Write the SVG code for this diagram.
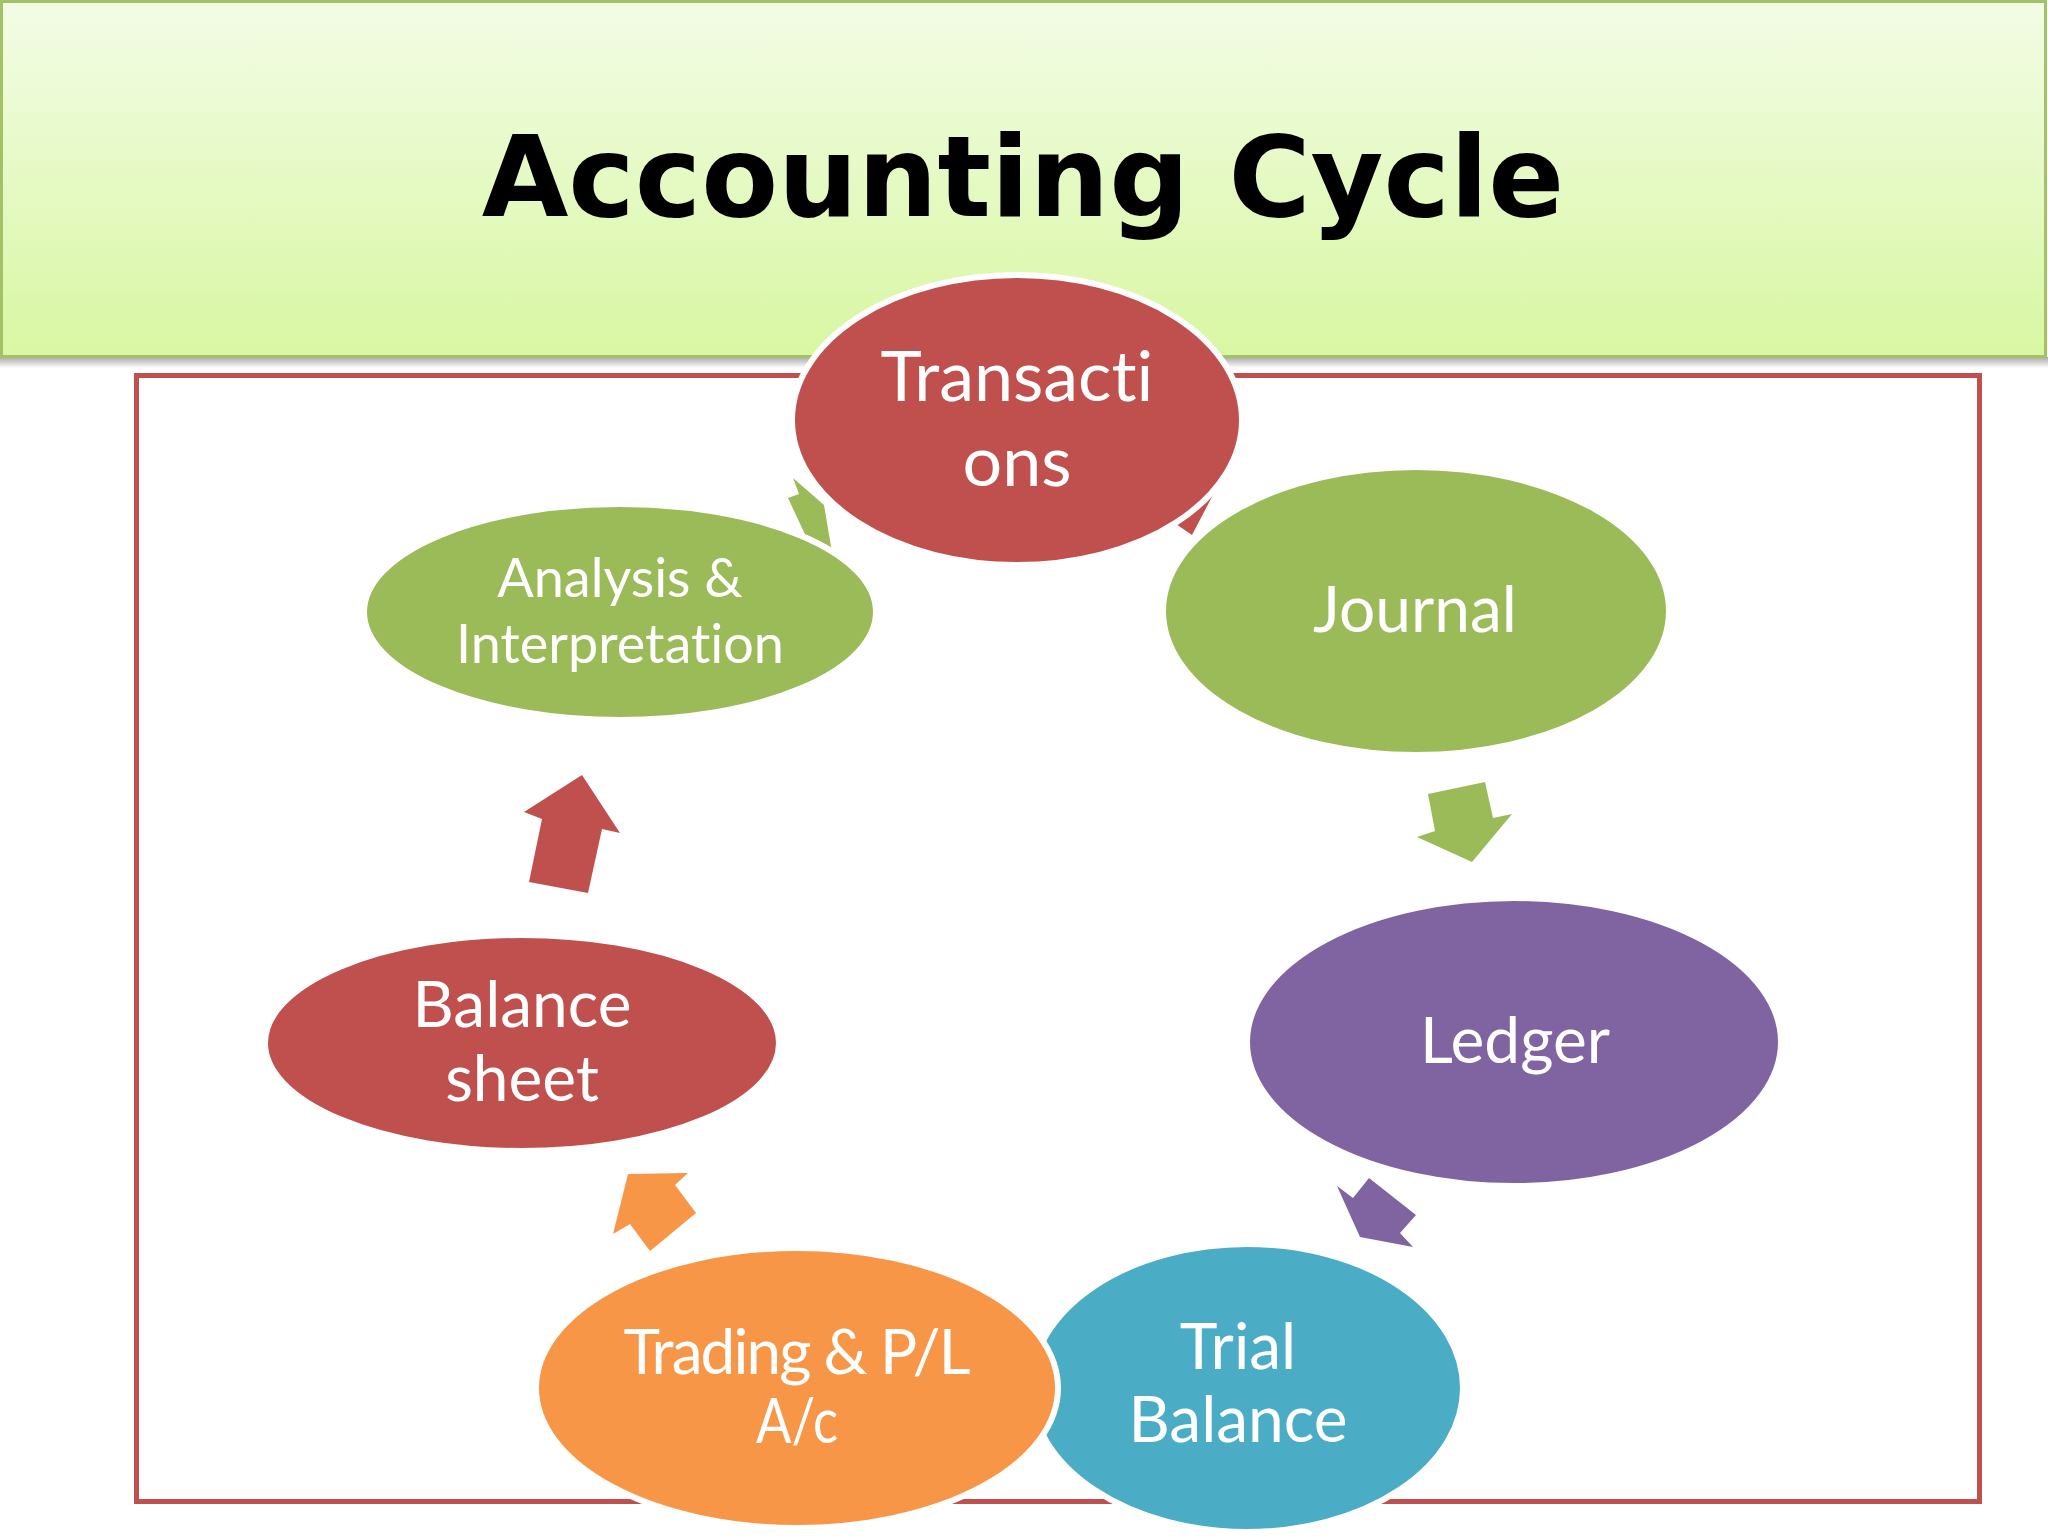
<svg xmlns="http://www.w3.org/2000/svg" width="2048" height="1536" viewBox="0 0 2048 1536">
  <defs>
    <linearGradient id="titleGrad" x1="0" y1="0" x2="0" y2="1">
      <stop offset="0" stop-color="#f3fce6"/>
      <stop offset="1" stop-color="#d8f7a2"/>
    </linearGradient>
    <linearGradient id="shadowGrad" x1="0" y1="0" x2="0" y2="1">
      <stop offset="0" stop-color="#a9a9a9"/>
      <stop offset="1" stop-color="#ffffff"/>
    </linearGradient>
    <style>
      .node { stroke: #ffffff; stroke-width: 6; }
      .red { fill: #c0504d; }
      .green { fill: #9bbb59; }
      .purple { fill: #8064a2; }
      .blue { fill: #4bacc6; }
      .orange { fill: #f79646; }
      .label { font-family: Lato, "Open Sans", "Liberation Sans", sans-serif; fill: #ffffff; text-anchor: middle; font-size: 64px; font-variant-ligatures: none; font-feature-settings: "liga" 0, "clig" 0; }
      .small { font-size: 54px; }
      .title { font-family: "DejaVu Sans", Verdana, sans-serif; font-weight: bold; font-size: 112px; fill: #000000; text-anchor: middle; }
    </style>
  </defs>
  <rect x="0" y="0" width="2048" height="1536" fill="#ffffff"/>
  <g id="title-bar">
    <rect x="0" y="357" width="2048" height="11" fill="url(#shadowGrad)"/>
    <rect x="1.5" y="1.5" width="2044" height="355" fill="url(#titleGrad)" stroke="#a3c267" stroke-width="3"/>
    <text class="title" x="1023" y="216">Accounting Cycle</text>
  </g>
  <g id="frame">
    <rect x="136.5" y="375.5" width="1843" height="1126" fill="none" stroke="#c0504d" stroke-width="5"/>
  </g>
  <g id="connectors">
    <polygon class="green" points="1428,794 1485,782 1493,818 1512,814 1472,862 1417,837 1435,831"/>
    <polygon class="purple" points="1369,1178 1416,1215 1400,1233 1413,1247 1360,1237 1337,1186 1353,1198"/>
    <polygon class="orange" points="628,1174 688,1173 675,1185 696,1213 650,1251 630,1224 613,1234"/>
    <polygon class="red" points="582,775 620,833 602,829 588,893 529,882 542,819 524,812"/>
    <polygon class="green" points="793,478 824,505 832,552 810,545 788,498 799,494"/>
    <polygon class="red" points="1236,452 1229,470 1222,484 1214,493 1192,535 1170,520"/>
  </g>
  <g id="node-journal">
    <ellipse class="node green" cx="1416" cy="611" rx="253" ry="144"/>
    <text class="label" x="1415" y="632">Journal</text>
  </g>
  <g id="node-ledger">
    <ellipse class="node purple" cx="1514" cy="1042" rx="267" ry="144"/>
    <text class="label" x="1515" y="1063">Ledger</text>
  </g>
  <g id="node-trial-balance">
    <ellipse class="node blue" cx="1247" cy="1388" rx="216" ry="144"/>
    <text class="label" x="1238" y="1369">Trial</text>
    <text class="label" x="1238" y="1442">Balance</text>
  </g>
  <g id="node-trading">
    <ellipse class="node orange" cx="797" cy="1388" rx="261" ry="140"/>
    <text class="label" x="797" y="1374" style="font-size:62px" textLength="347" lengthAdjust="spacing">Trading &amp; P/L</text>
    <text class="label" x="797" y="1443" style="font-size:62px" textLength="82" lengthAdjust="spacingAndGlyphs">A/c</text>
  </g>
  <g id="node-balance-sheet">
    <ellipse class="node red" cx="522" cy="1043" rx="257" ry="108"/>
    <text class="label" x="522" y="1027">Balance</text>
    <text class="label" x="522" y="1101">sheet</text>
  </g>
  <g id="node-analysis">
    <ellipse class="node green" cx="620" cy="612" rx="256" ry="108"/>
    <text class="label small" x="620" y="597">Analysis &amp;</text>
    <text class="label small" x="620" y="663">Interpretation</text>
  </g>
  <g id="node-transactions">
    <ellipse class="node red" cx="1017" cy="420" rx="225" ry="145"/>
    <text class="label" x="1017" y="401" style="font-size:70px">Transacti</text>
    <text class="label" x="1017" y="486" style="font-size:70px">ons</text>
  </g>
</svg>
